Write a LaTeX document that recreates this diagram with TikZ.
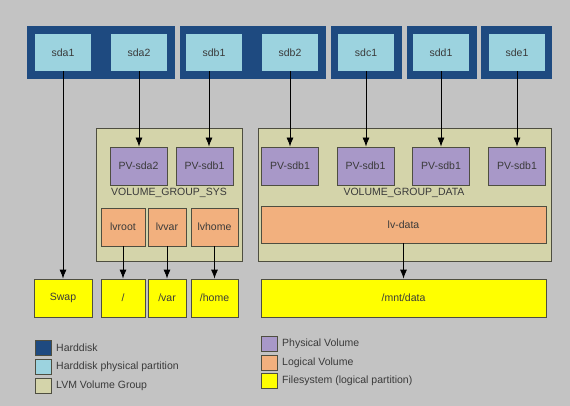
\documentclass[tikz,border=0pt]{standalone}
\usepackage{fontspec}
\setmainfont{Liberation Sans}
\usetikzlibrary{arrows.meta}
\definecolor{bgcol}{HTML}{C3C3C3}
\definecolor{diskcol}{HTML}{1E4A80}
\definecolor{partcol}{HTML}{9CD3DF}
\definecolor{vgcol}{HTML}{D4D4AA}
\definecolor{pvcol}{HTML}{A898C8}
\definecolor{lvcol}{HTML}{F2B07E}
\definecolor{fscol}{HTML}{FFFF00}
\definecolor{linecol}{HTML}{4E4E40}
\definecolor{txtcol}{HTML}{3A3A3A}
\begin{document}
\begin{tikzpicture}[x=1pt,y=-1pt]
  \tikzstyle{every node}=[rectangle,inner sep=0pt,text=txtcol,font=\fontsize{10.5}{12}\selectfont]
  \tikzstyle{disk}=[fill=diskcol,minimum height=53pt]
  \tikzstyle{part}=[fill=partcol,minimum width=56pt,minimum height=37pt]
  \tikzstyle{vg}=[fill=vgcol,draw=linecol,line width=0.8pt,minimum height=133pt]
  \tikzstyle{pv}=[fill=pvcol,draw=linecol,line width=0.8pt,minimum width=57pt,minimum height=38pt]
  \tikzstyle{lv}=[fill=lvcol,draw=linecol,line width=0.8pt,minimum height=38pt]
  \tikzstyle{fs}=[fill=fscol,draw=linecol,line width=0.8pt,minimum height=38pt]
  \tikzstyle{key}=[draw=linecol,line width=0.8pt,minimum width=16pt,minimum height=15pt]
  \tikzstyle{arr}=[-{Latex[length=9pt,width=7pt]},line width=0.8pt,black]
  \useasboundingbox (0,0) rectangle (570,406);
  \fill[bgcol] (0,0) rectangle (570,406);
  \node[disk,minimum width=148pt] (hda) at (101,52.5) {};
  \node[disk,minimum width=146pt] (hdb) at (253,52.5) {};
  \node[disk,minimum width=71pt] (hdc) at (366.5,52.5) {};
  \node[disk,minimum width=70pt] (hdd) at (442,52.5) {};
  \node[disk,minimum width=71pt] (hde) at (516.5,52.5) {};
  \node[part] (sda1) at (63,52.5) {sda1};
  \node[part] (sda2) at (139,52.5) {sda2};
  \node[part] (sdb1) at (214,52.5) {sdb1};
  \node[part] (sdb2) at (290,52.5) {sdb2};
  \node[part] (sdc1) at (366,52.5) {sdc1};
  \node[part] (sdd1) at (441,52.5) {sdd1};
  \node[part] (sde1) at (517,52.5) {sde1};
  \node[vg,minimum width=146pt] (vgsys) at (169,194.5) {};
  \node[vg,minimum width=293pt] (vgdata) at (404.5,194.5) {};
  \node (vgsyslabel) at (169,193) {VOLUME\_GROUP\_SYS};
  \node (vgdatalabel) at (404,193) {VOLUME\_GROUP\_DATA};
  \node[pv] (pvsda2) at (138.5,166) {PV-sda2};
  \node[pv] (pvsdb1) at (204.5,166) {PV-sdb1};
  \node[pv] (pvsdb2) at (290,166) {PV-sdb1};
  \node[pv] (pvsdc1) at (365.5,166) {PV-sdb1};
  \node[pv] (pvsdd1) at (441,166) {PV-sdb1};
  \node[pv] (pvsde1) at (517,166) {PV-sdb1};
  \node[lv,minimum width=44pt] (lvroot) at (123,227) {lvroot};
  \node[lv,minimum width=38pt] (lvvar) at (167,227) {lvvar};
  \node[lv,minimum width=47pt] (lvhome) at (214.5,227) {lvhome};
  \node[lv,minimum width=285pt,minimum height=37pt] (lvdata) at (403.5,224.5) {lv-data};
  \node[fs,minimum width=58pt] (swap) at (63,298) {Swap};
  \node[fs,minimum width=44pt] (root) at (123,298) {/};
  \node[fs,minimum width=38pt] (var) at (167,298) {/var};
  \node[fs,minimum width=47pt] (home) at (214.5,298) {/home};
  \node[fs,minimum width=285pt] (mntdata) at (403.5,298) {/mnt/data};
  \draw[arr] (sda1) -- (sda1 |- swap.north);
  \draw[arr] (sda2) -- (sda2 |- pvsda2.north);
  \draw[arr] (sdb1.south -| 209,0) -- (pvsdb1.north -| 209,0);
  \draw[arr] (sdb2) -- (sdb2 |- pvsdb2.north);
  \draw[arr] (sdc1) -- (sdc1 |- pvsdc1.north);
  \draw[arr] (sdd1) -- (sdd1 |- pvsdd1.north);
  \draw[arr] (sde1) -- (sde1 |- pvsde1.north);
  \draw[arr] (lvroot) -- (lvroot |- root.north);
  \draw[arr] (lvvar) -- (lvvar |- var.north);
  \draw[arr] (lvhome) -- (lvhome |- home.north);
  \draw[arr] (lvdata) -- (lvdata |- mntdata.north);
  \node[key,fill=diskcol] (keydisk) at (43,347.5) {};
  \node[key,fill=partcol] (keypart) at (43,366.5) {};
  \node[key,fill=vgcol] (keyvg) at (43,385.5) {};
  \node[anchor=west] at (56,347.5) {Harddisk};
  \node[anchor=west] at (56,366.5) {Harddisk physical partition};
  \node[anchor=west] at (56,385.5) {LVM Volume Group};
  \node[key,fill=pvcol] (keypv) at (269.5,343.5) {};
  \node[key,fill=lvcol] (keylv) at (269.5,363) {};
  \node[key,fill=fscol] (keyfs) at (269.5,381) {};
  \node[anchor=west] at (282,343.5) {Physical Volume};
  \node[anchor=west] at (282,363) {Logical Volume};
  \node[anchor=west] at (282,381) {Filesystem (logical partition)};
\end{tikzpicture}
\end{document}
